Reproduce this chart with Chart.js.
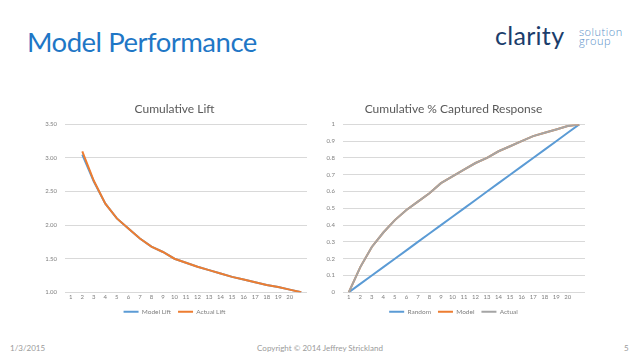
<!DOCTYPE html>
<html>
<head>
<meta charset="utf-8">
<script src="https://cdn.jsdelivr.net/npm/chart.js@4.4.0/dist/chart.umd.min.js"></script>
<style>
  html, body { margin: 0; padding: 0; background: #fff; }
  body { width: 638px; height: 359px; position: relative; overflow: hidden; font-family: Lato, "Open Sans", sans-serif; }
  #title { position: absolute; left: 27px; top: 25px; font-size: 27.5px; color: #1f77c6; letter-spacing: -0.5px; }
  #logo { position: absolute; left: 495px; top: 20px; color: #1b3d6b; font-family: Lato, sans-serif; font-size: 25px; line-height: 30px; letter-spacing: 0.3px; }
  #logo2 { position: absolute; left: 579px; top: 27px; color: #5a8fc8; font-family: "Open Sans", sans-serif; font-weight: 300; font-size: 11px; line-height: 9px; letter-spacing: 0.5px; }
  .foot { position: absolute; top: 343px; font-size: 8px; color: #9a9a9a; }
  .box { position: absolute; }
</style>
</head>
<body>
<div id="title">Model Performance</div>
<div id="logo">clarity</div>
<div id="logo2">solution<br>group</div>
<div class="foot" style="left:10px">1/3/2015</div>
<div class="foot" style="left:0;width:640px;text-align:center">Copyright © 2014 Jeffrey Strickland</div>
<div class="foot" style="left:624px">5</div>

<div class="box" style="left:42px;top:95px;width:275px;height:230px"><canvas id="liftChart"></canvas></div>
<div class="box" style="left:322px;top:95px;width:273px;height:230px"><canvas id="captureChart"></canvas></div>

<script>
// categories (Excel style: last slot unlabeled)
const categories = ['1','2','3','4','5','6','7','8','9','10','11','12','13','14','15','16','17','18','19','20',''];

// Cumulative Lift
const modelLift  = [null, 3.05, 2.65, 2.32, 2.10, 1.95, 1.80, 1.68, 1.60, 1.50, 1.44, 1.38, 1.33, 1.28, 1.23, 1.19, 1.15, 1.11, 1.08, 1.04, 1.00];
const actualLift = [null, 3.10, 2.66, 2.32, 2.10, 1.95, 1.80, 1.68, 1.60, 1.50, 1.44, 1.38, 1.33, 1.28, 1.23, 1.19, 1.15, 1.11, 1.08, 1.04, 1.00];
const liftTicks  = ['1.00', '1.50', '2.00', '2.50', '3.00', '3.50'];

// Cumulative % Captured Response
const randomResp = [0, 0.05, 0.10, 0.15, 0.20, 0.25, 0.30, 0.35, 0.40, 0.45, 0.50, 0.55, 0.60, 0.65, 0.70, 0.75, 0.80, 0.85, 0.90, 0.95, 1.00];
const modelResp  = [0, 0.15, 0.27, 0.356, 0.43, 0.49, 0.54, 0.59, 0.65, 0.69, 0.73, 0.77, 0.80, 0.84, 0.87, 0.90, 0.93, 0.95, 0.97, 0.99, 1.00];
const actualResp = [0, 0.15, 0.27, 0.356, 0.43, 0.49, 0.54, 0.59, 0.65, 0.69, 0.73, 0.77, 0.80, 0.84, 0.87, 0.90, 0.93, 0.95, 0.97, 0.99, 1.00];
const respTicks  = ['0', '0.1', '0.2', '0.3', '0.4', '0.5', '0.6', '0.7', '0.8', '0.9', '1'];

const colors = { blue: '#5b9bd5', orange: '#ed7d31', gray: '#a5a5a5' };
const tickFont = { family: 'Lato, sans-serif', size: 6 };
const tickColor = '#7f7f7f';

// later series drawn on top, like Excel
function lineSet(label, data, color, order) {
    return {
        label: label,
        data: data,
        borderColor: color,
        backgroundColor: color,
        borderWidth: 2,
        pointRadius: 0,
        pointStyle: 'line',
        tension: 0,
        order: order
    };
}

function baseOptions(title, yMin, yMax, yStep, tickLabels, yWidth) {
    return {
        responsive: true,
        maintainAspectRatio: false,
        animation: false,
        layout: { padding: { left: 0, right: 10, top: 0, bottom: 0 } },
        scales: {
            x: {
                offset: true,
                grid: { display: false, drawTicks: false },
                border: { display: false },
                ticks: { font: tickFont, color: tickColor, maxRotation: 0, autoSkip: false, padding: 1 }
            },
            y: {
                min: yMin,
                max: yMax,
                grid: { color: '#d9d9d9', lineWidth: 1, drawTicks: false },
                border: { display: false },
                afterFit: scale => { scale.width = yWidth; },
                ticks: {
                    stepSize: yStep,
                    font: tickFont,
                    color: tickColor,
                    padding: 8,
                    callback: (v, i) => tickLabels[i]
                }
            }
        },
        plugins: {
            title: {
                display: true,
                text: title,
                color: '#595959',
                font: { family: 'Lato, sans-serif', size: 12, weight: 'normal' },
                padding: { top: 7, bottom: 8 }
            },
            legend: {
                position: 'bottom',
                labels: {
                    font: { family: 'Lato, sans-serif', size: 6.5 },
                    color: '#7f7f7f',
                    usePointStyle: true,
                    pointStyleWidth: 15,
                    boxHeight: 6,
                    padding: 7,
                    sort: (a, b) => a.datasetIndex - b.datasetIndex
                }
            },
            tooltip: { enabled: false }
        }
    };
}

new Chart(document.getElementById('liftChart'), {
    type: 'line',
    data: {
        labels: categories,
        datasets: [
            lineSet('Model Lift', modelLift, colors.blue, 2),
            lineSet('Actual Lift', actualLift, colors.orange, 1)
        ]
    },
    options: baseOptions('Cumulative Lift', 1, 3.5, 0.5, liftTicks, 23)
});

new Chart(document.getElementById('captureChart'), {
    type: 'line',
    data: {
        labels: categories,
        datasets: [
            lineSet('Random', randomResp, colors.blue, 3),
            lineSet('Model', modelResp, colors.orange, 2),
            lineSet('Actual', actualResp, colors.gray, 1)
        ]
    },
    options: baseOptions('Cumulative % Captured Response', 0, 1, 0.1, respTicks, 21)
});
</script>
</body>
</html>
